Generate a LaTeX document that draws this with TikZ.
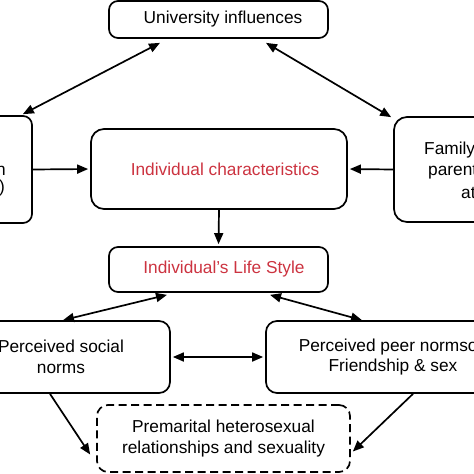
\documentclass[tikz,border=0pt]{standalone}
\usepackage{fontspec}
\setmainfont{Liberation Sans}
\usetikzlibrary{arrows.meta,calc}
\definecolor{redtxt}{HTML}{CC3340}
\begin{document}
\begin{tikzpicture}[x=1pt,y=-1pt,
  every node/.style={font=\fontsize{17.3}{20.5}\selectfont},
  box/.style={draw,line width=1.7pt,rounded corners=9pt,align=center,inner sep=0pt},
  dbox/.style={box,dash pattern=on 8pt off 4.5pt},
  frag/.style={inner sep=0pt},
  conn/.style={line width=1.7pt,-{Triangle[length=11pt,width=9pt]}},
  dconn/.style={line width=1.7pt,{Triangle[length=11pt,width=9pt]}-{Triangle[length=11pt,width=9pt]}}]
\useasboundingbox (0,0) rectangle (474,474);
\clip (0,0) rectangle (474,474);
\node[box,minimum width=219pt,minimum height=37pt] (univ) at (218.5,19.5) {\hspace*{9pt}University influences};
\node[box,minimum width=92pt,minimum height=107pt] (left) at (-14,169.5) {};
\node[frag,anchor=east] (lt1) at (6,171) {n};
\node[frag,anchor=east] (lt2) at (5,188) {)};
\node[box,rounded corners=13pt,minimum width=256pt,minimum height=80pt,text=redtxt] (indiv) at (219,169) {\hspace*{12pt}Individual characteristics};
\node[box,rounded corners=13pt,minimum width=166pt,minimum height=105pt] (family) at (477,169.5) {};
\node[frag,anchor=west] (ft1) at (424,150) {Family};
\node[frag,anchor=west] (ft2) at (428,172) {parent};
\node[frag,anchor=west] (ft3) at (461,193) {at};
\node[box,minimum width=219pt,minimum height=45pt,text=redtxt] (life) at (218.5,269.5) {\hspace*{11pt}Individual’s Life Style};
\node[box,rounded corners=11pt,minimum width=218pt,minimum height=72pt] (social) at (61,357) {Perceived social\\norms};
\node[box,rounded corners=11pt,minimum width=254pt,minimum height=72pt] (peer) at (393,357) {Perceived peer normson\\Friendship \& sex};
\node[dbox,rounded corners=11pt,minimum width=253pt,minimum height=67pt] (prem) at (223.5,438.5) {Premarital heterosexual\\relationships and sexuality};
% connectors
\draw[dconn] ($(univ.south)+(-58.5,4)$) -- ($(left.north east)+(-10,-1)$);
\draw[dconn] ($(univ.south)+(47.5,4)$) -- ($(family.north west)+(-2,1)$);
\draw[conn,shorten >=2pt] (left.east) -- (indiv.west);
\draw[conn,shorten >=2pt] (family.west) -- (indiv.east);
\draw[conn,shorten >=2pt] (indiv.south) -- (life.north);
\draw[dconn] ($(life.south)+(-51.5,2)$) -- ($(social.north)+(2,0)$);
\draw[dconn] ($(life.south)+(51.5,2)$) -- ($(peer.north)+(-31,0)$);
\draw[dconn,shorten <=2pt,shorten >=2pt] (social.east) -- (peer.west);
\draw[conn] ($(social.south)+(-11,0)$) -- ($(prem.west)+(-6,16)$);
\draw[conn] ($(peer.south)+(20,0)$) -- ($(prem.east)+(2,13)$);
\end{tikzpicture}
\end{document}
